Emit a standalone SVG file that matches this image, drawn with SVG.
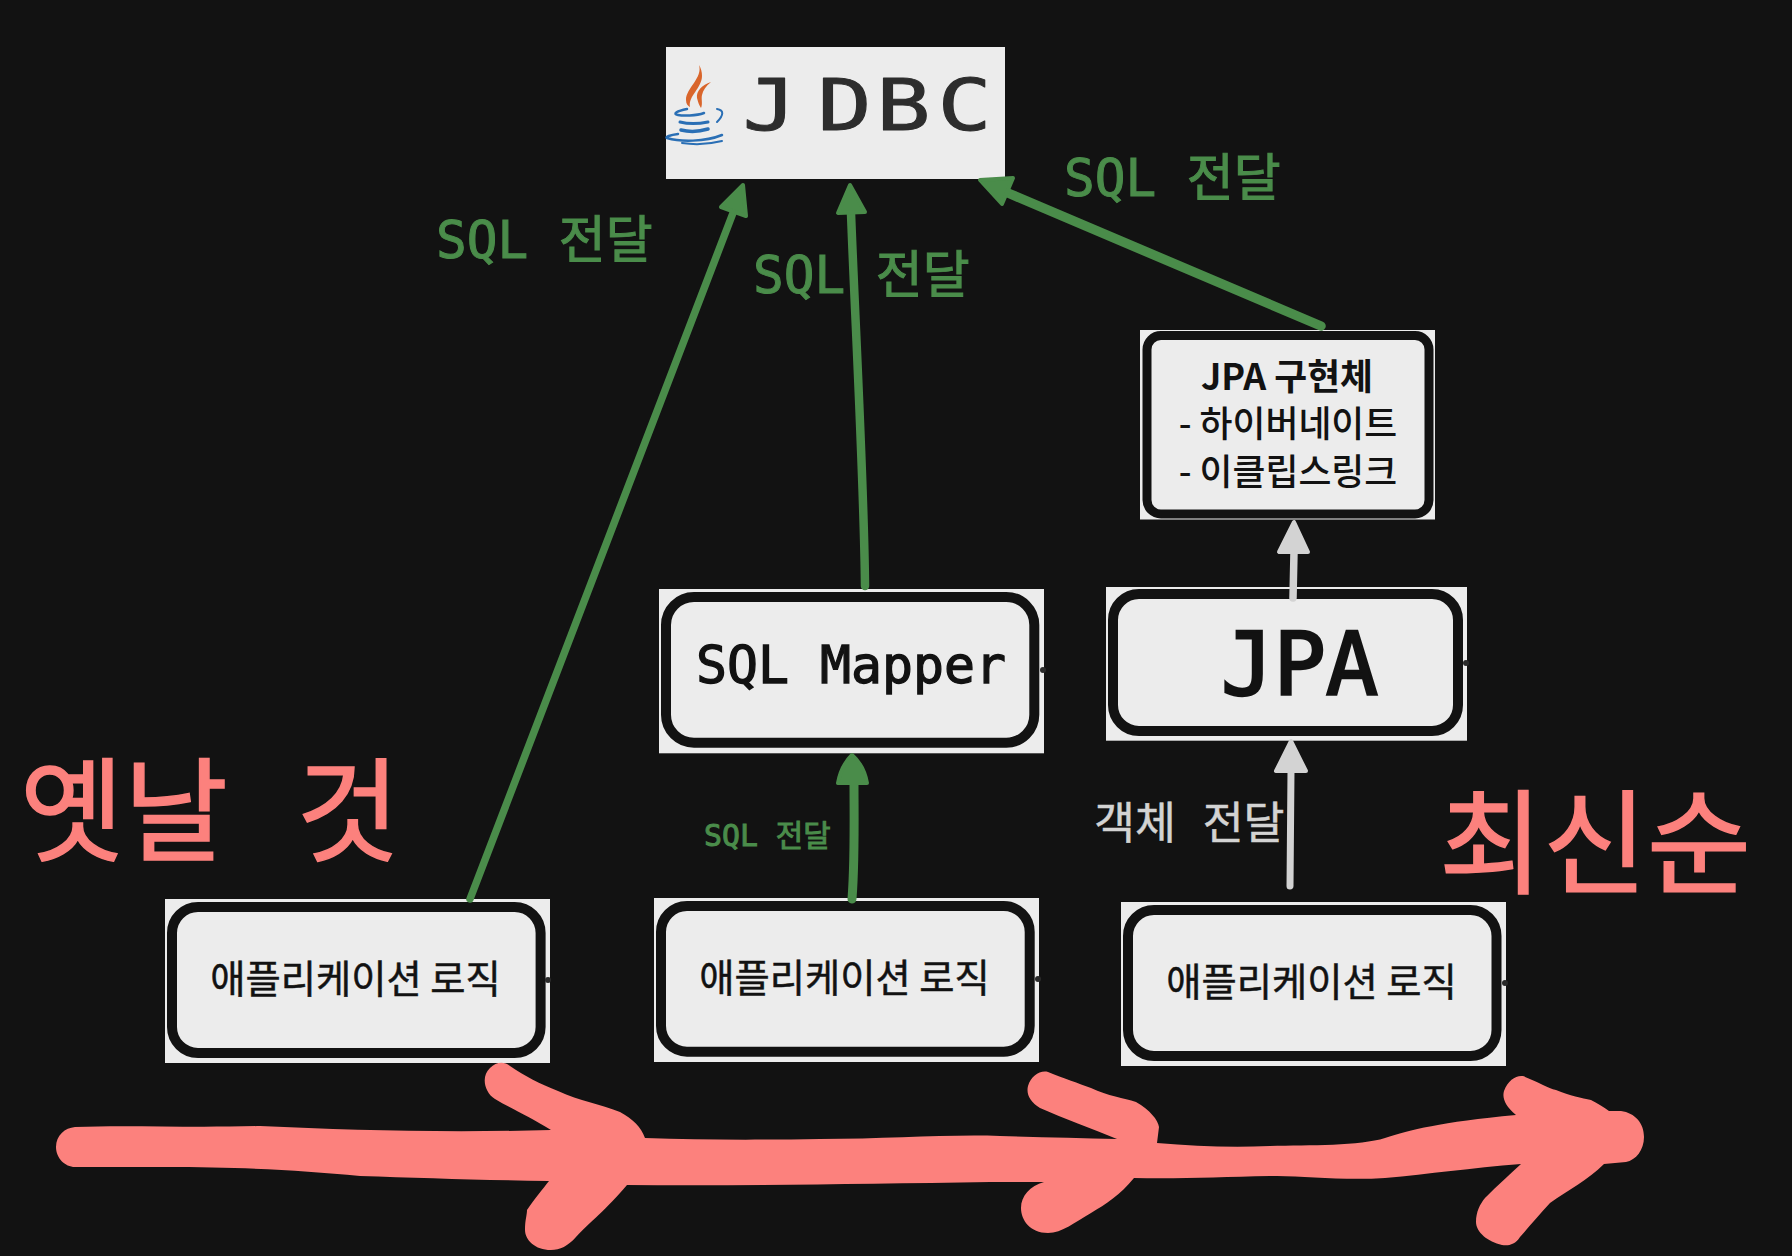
<svg xmlns="http://www.w3.org/2000/svg" width="1792" height="1256" viewBox="0 0 1792 1256">
<style>
.panel{fill:#ececec}
.frame{fill:none;stroke:#121212;stroke-width:10}
.nub{fill:#2a2a2a}
.box-text{font-family:"Noto Sans CJK KR","Liberation Sans",sans-serif;font-size:38.300px;fill:#121212;stroke:#121212;stroke-width:0.5;text-anchor:middle}
.impl-text{font-family:"Noto Sans CJK KR","Liberation Sans",sans-serif;font-size:35.800px;font-weight:500;fill:#121212;text-anchor:middle}
.mono{font-family:"DejaVu Sans Mono","Noto Sans CJK KR",monospace}
.green{fill:#4a8c4a;stroke:#4a8c4a;stroke-width:1}
.gl{fill:none;stroke:#4a8c4a;stroke-linecap:round}
.gh{fill:#4a8c4a;stroke:#4a8c4a;stroke-width:4;stroke-linejoin:round}
.wl{fill:none;stroke:#d3d3d3;stroke-linecap:round}
.wh{fill:#d3d3d3;stroke:#d3d3d3;stroke-width:4;stroke-linejoin:round}
.big{font-family:"DejaVu Sans Mono","Noto Sans CJK KR",monospace;font-size:113px;fill:#fc817d;stroke:#fc817d;stroke-width:1.500}
</style>
<rect width="1792" height="1256" fill="#121212"/>

<g id="jdbc">
<rect class="panel" x="666" y="47" width="339" height="132"/>
<path d="M699,65 C703,78 686,88 686,100 C686,104 688,106 690,107 C688,96 702,88 702,76 C702,72 701,68 699,65Z" fill="#d9652b"/>
<path d="M711,82 C702,85 696,91 697,98 C698,102 699,105 701,108 C703,104 701,99 702,95 C703,90 706,86 711,82Z" fill="#d9652b"/>
<g fill="none" stroke="#2a6fb5" stroke-linecap="round">
<path d="M687,109 C677,111 672,114 678,115 C683,116 696,116 704,113" stroke-width="2.5"/>
<path d="M717,109 C724,110 724,115 717,122" stroke-width="2"/>
<path d="M680,122 C688,124 698,124 708,122" stroke-width="3"/>
<path d="M681,130 C689,132 698,132 708,129" stroke-width="3.5"/>
<path d="M678,134 C670,135 665,137 667,138 C680,142 705,142 722,135" stroke-width="2.5"/>
<path d="M682,143 C695,145 710,144 722,141" stroke-width="2"/>
</g>
<text transform="scale(1.25 1)" x="594 654 701 750" y="130" font-family="'DejaVu Sans Mono',monospace" font-size="72" fill="#2d2d2d" stroke="#2d2d2d" stroke-width="1" stroke-linejoin="round">JDBC</text>
</g>

<g id="jpa-impl">
<rect class="panel" x="1140" y="330" width="295" height="189.500"/>
<rect class="frame" style="stroke-width:9" x="1147" y="335.500" width="282" height="178.500" rx="14"/>
<text class="impl-text" x="1287" y="390" style="font-weight:700">JPA 구현체</text>
<text class="impl-text" x="1288" y="437">- 하이버네이트</text>
<text class="impl-text" x="1288" y="485">- 이클립스링크</text>
</g>

<g id="jpa">
<rect class="panel" x="1106" y="587" width="361" height="153.700"/>
<rect class="frame" x="1113" y="594" width="345" height="137" rx="26"/>
<circle class="nub" cx="1466" cy="663" r="3"/>
<text class="mono" x="1221" y="695" font-size="87" fill="#121212" stroke="#121212" stroke-width="2.500">JPA</text>
</g>

<g id="sql-mapper">
<rect class="panel" x="659" y="589" width="385" height="164.300"/>
<rect class="frame" x="666" y="597" width="368.300" height="145.700" rx="28"/>
<circle class="nub" cx="1043" cy="670" r="3"/>
<text class="mono" x="696" y="683" font-size="51.500" fill="#121212" stroke="#121212" stroke-width="1.300">SQL Mapper</text>
</g>

<g id="app-1">
<rect class="panel" x="165" y="899" width="385" height="164"/>
<rect class="frame" x="172" y="907" width="368.600" height="146" rx="26"/>
<circle class="nub" cx="548" cy="980" r="3"/>
<text class="box-text" x="355.500" y="993">애플리케이션 로직</text>
</g>

<g id="app-2">
<rect class="panel" x="654" y="898" width="385" height="164"/>
<rect class="frame" x="661" y="906" width="368.700" height="145.700" rx="26"/>
<circle class="nub" cx="1038" cy="979" r="3"/>
<text class="box-text" x="844.500" y="992">애플리케이션 로직</text>
</g>

<g id="app-3">
<rect class="panel" x="1121" y="902" width="385" height="164"/>
<rect class="frame" x="1128" y="910" width="368.500" height="146" rx="26"/>
<circle class="nub" cx="1505" cy="983" r="3"/>
<text class="box-text" x="1311.500" y="996">애플리케이션 로직</text>
</g>

<g id="connectors">
<path class="gl" stroke-width="7.500" d="M470,899 L733,213"/>
<path class="gh" d="M743,185 L721,207 L746,216Z"/>
<path class="gl" stroke-width="8.500" d="M865,586 C864,480 855,320 851,213"/>
<path class="gh" d="M850,185 L838,213 L865,212Z"/>
<path class="gl" stroke-width="9.500" d="M1321,326 L1008,193"/>
<path class="gh" d="M980,180 L1013,178 L1002,204Z"/>
<path class="gl" stroke-width="9" d="M852,899 C855,860 854,820 854,782"/>
<path class="gh" d="M852,755 C845,762 840,772 838,783 L867,783 C865,772 860,762 852,755Z"/>
<path class="wl" stroke-width="7.500" d="M1293,598 L1294,552"/>
<path class="wh" d="M1294,522 L1279,552 L1308,552Z"/>
<path class="wl" stroke-width="7" d="M1290,886 L1291,771"/>
<path class="wh" d="M1291,741 L1276,771 L1306,771Z"/>
</g>

<text class="mono green" x="436" y="258" font-size="51">SQL 전달</text>
<text class="mono green" x="753" y="293" font-size="51">SQL 전달</text>
<text class="mono green" x="1064" y="196" font-size="51">SQL 전달</text>
<text class="mono green" x="704" y="846" font-size="29.800">SQL 전달</text>
<text class="mono" x="1094" y="839" font-size="44.500" fill="#d3d3d3" stroke="#d3d3d3" stroke-width="0.5">객체 전달</text>

<text class="big" x="20" y="852">옛날 것</text>
<text class="big" x="1439" y="884">최신순</text>

<path id="timeline" fill="#fc817d" d="M56,1147 C56,1135 65,1128 75,1127 C130,1125 190,1128 260,1126 C350,1130 440,1133 551,1130 C530,1117 510,1108 495,1099 C484,1092 481,1076 490,1068 C496,1062 504,1061 510,1066 C525,1076 540,1084 558,1091 C580,1101 600,1104 620,1112 C633,1119 641,1127 645,1138 C700,1140 760,1140 820,1139 C890,1139 950,1134 1000,1136 C1040,1137 1080,1138 1117,1139 C1090,1128 1065,1119 1040,1108 C1030,1102 1026,1094 1028,1086 C1031,1076 1040,1070 1048,1072 C1065,1079 1078,1083 1091,1088 C1108,1096 1124,1098 1136,1102 C1150,1110 1158,1120 1159,1127 L1157,1143 C1195,1146 1230,1148 1270,1146 C1310,1145 1360,1146 1385,1138 C1410,1130 1440,1122 1516,1115 C1505,1106 1502,1098 1504,1091 C1508,1080 1516,1075 1523,1076 C1538,1082 1548,1088 1556,1090 C1570,1096 1582,1098 1591,1100 C1598,1104 1604,1107 1609,1111 L1621,1111 C1635,1113 1644,1123 1644,1137 C1644,1150 1636,1160 1626,1162 L1604,1164 C1588,1180 1568,1190 1550,1203 C1538,1216 1528,1228 1520,1237 C1515,1245 1508,1246 1502,1245 C1488,1242 1476,1232 1476,1222 C1476,1212 1480,1204 1485,1198 C1498,1185 1510,1174 1521,1164 C1470,1168 1430,1174 1385,1178 C1340,1181 1300,1175 1270,1176 C1220,1177 1180,1179 1134,1178 C1120,1195 1106,1204 1091,1213 C1075,1222 1062,1233 1048,1233 C1030,1233 1021,1220 1021,1208 C1021,1196 1030,1186 1044,1182 C1020,1182 1005,1182 990,1182 C860,1184 740,1186 627,1185 C606,1210 590,1222 576,1237 C568,1246 560,1250 551,1250 C535,1250 525,1240 525,1230 C525,1220 527,1215 527,1210 C535,1198 542,1190 549,1181 C480,1180 420,1178 360,1176 C300,1170 240,1167 165,1167 L75,1167 C65,1167 56,1158 56,1147Z"/>
</svg>
